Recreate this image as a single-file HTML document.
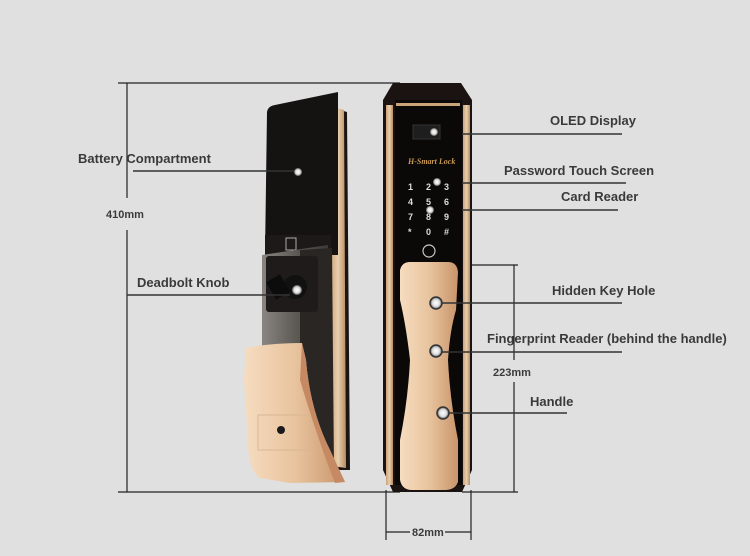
<!DOCTYPE html>
<html><head><meta charset="utf-8"><style>
html,body{margin:0;padding:0;background:#e0e0e0;}
svg{display:block}
text{font-family:"Liberation Sans",sans-serif;font-weight:bold;fill:#3a3a3a;}
</style></head><body>
<svg width="750" height="556" viewBox="0 0 750 556" xmlns="http://www.w3.org/2000/svg">
<defs>
<linearGradient id="gold" x1="0" x2="1" y1="0" y2="0">
<stop offset="0" stop-color="#f6dcc0"/><stop offset="0.5" stop-color="#e8c49e"/><stop offset="1" stop-color="#c9956b"/>
</linearGradient>
<linearGradient id="gold2" x1="0" x2="1">
<stop offset="0" stop-color="#c9a27a"/><stop offset="0.5" stop-color="#e9cfae"/><stop offset="1" stop-color="#b88c62"/>
</linearGradient>
<linearGradient id="gray" x1="0" x2="1">
<stop offset="0" stop-color="#8a8580"/><stop offset="0.5" stop-color="#5d5955"/><stop offset="1" stop-color="#3a3734"/>
</linearGradient>
<radialGradient id="dot"><stop offset="0" stop-color="#fff"/><stop offset="0.6" stop-color="#ddd"/><stop offset="1" stop-color="#555"/></radialGradient>
</defs>
<rect width="750" height="556" fill="#e0e0e0"/>

<!-- dimension lines -->
<g stroke="#222" stroke-width="1.2" fill="none">
<line x1="118" y1="83" x2="400" y2="83"/>
<line x1="118" y1="492" x2="400" y2="492"/>
<line x1="127" y1="83" x2="127" y2="198"/>
<line x1="127" y1="230" x2="127" y2="492"/>
<line x1="462" y1="265" x2="518" y2="265"/>
<line x1="462" y1="492" x2="518" y2="492"/>
<line x1="514" y1="265" x2="514" y2="360"/>
<line x1="514" y1="382" x2="514" y2="492"/>
<line x1="386" y1="490" x2="386" y2="540"/>
<line x1="471" y1="490" x2="471" y2="540"/>
<line x1="386" y1="532" x2="410" y2="532"/>
<line x1="445" y1="532" x2="471" y2="532"/>
</g>
<text x="106" y="218" font-size="11" font-weight="normal">410mm</text>
<text x="493" y="376" font-size="11" font-weight="normal">223mm</text>
<text x="412" y="536" font-size="11" font-weight="normal">82mm</text>

<!-- Left lock -->
<path d="M333 108 L347 112 L350 470 L336 470 Z" fill="#1a1413"/>
<path d="M330 106 L344 110 L346 468 L332 466 Z" fill="url(#gold2)"/>
<path d="M267 112 Q268 106 275 105 L338 92 L338 255 L265 255 Z" fill="#151212"/>
<rect x="265" y="235" width="66" height="20" fill="#1c1918"/>
<rect x="286" y="238" width="10" height="12" fill="none" stroke="#aaa" stroke-width="1"/>
<path d="M262 255 L328 245 L330 470 L300 470 L262 440 Z" fill="url(#gray)"/>
<path d="M300 250 L332 248 L334 470 L310 470 Q318 420 300 350 Z" fill="#2a2624"/>
<rect x="266" y="256" width="52" height="56" rx="3" fill="#1e1b1a"/>
<circle cx="295" cy="287" r="12" fill="#111"/>
<rect x="270" y="277" width="16" height="20" fill="#0c0c0c" transform="rotate(-30 278 287)"/>
<circle cx="297" cy="290" r="5" fill="url(#dot)"/>
<circle cx="298" cy="172" r="4" fill="url(#dot)"/>
<circle cx="296" cy="348" r="5" fill="#999"/>
<path d="M246 348 Q270 343 302 343 L306 360 Q310 410 330 450 L345 482 L290 483 L260 478 Q248 470 248 440 L244 380 Z" fill="url(#gold)"/>
<path d="M302 343 L306 360 Q310 410 330 450 L345 482 L335 483 Q318 440 300 380 Z" fill="#c58a63"/>
<rect x="258" y="415" width="52" height="35" fill="none" stroke="#d8b693" stroke-width="1"/>
<circle cx="281" cy="430" r="4" fill="#1a1a1a"/>

<!-- Right lock -->
<path d="M383 100 L393 83 L461 83 L472 100 L472 470 L462 492 L393 492 L383 470 Z" fill="#1a1312"/>
<rect x="386" y="105" width="7" height="380" fill="url(#gold2)"/>
<rect x="463" y="105" width="7" height="380" fill="url(#gold2)"/>
<rect x="395" y="100" width="67" height="385" fill="#0b0808"/>
<rect x="396" y="103" width="64" height="3" fill="#c9a27a"/>
<rect x="413" y="125" width="27" height="14" fill="#1e1e1e" stroke="#333"/>
<circle cx="434" cy="132" r="4" fill="url(#dot)"/>
<text x="408" y="164" font-size="8" font-style="italic" fill="#c99a55" style="fill:#c99a55;font-family:'Liberation Serif',serif">H-Smart Lock</text>
<g font-size="9" font-weight="normal" style="fill:#ddd">
<text x="408" y="190" style="fill:#ddd">1</text><text x="426" y="190" style="fill:#ddd">2</text><text x="444" y="190" style="fill:#ddd">3</text>
<text x="408" y="205" style="fill:#ddd">4</text><text x="426" y="205" style="fill:#ddd">5</text><text x="444" y="205" style="fill:#ddd">6</text>
<text x="408" y="220" style="fill:#ddd">7</text><text x="426" y="220" style="fill:#ddd">8</text><text x="444" y="220" style="fill:#ddd">9</text>
<text x="408" y="235" style="fill:#ddd">*</text><text x="426" y="235" style="fill:#ddd">0</text><text x="444" y="235" style="fill:#ddd">#</text>
</g>
<circle cx="437" cy="182" r="4" fill="url(#dot)"/>
<circle cx="430" cy="210" r="4" fill="url(#dot)"/>
<circle cx="429" cy="251" r="6" fill="none" stroke="#ccc" stroke-width="1.2"/>
<path d="M400 270 Q402 262 410 262 L448 262 Q457 262 458 272 L456 310 Q450 330 448 360 Q450 400 458 440 L458 482 Q455 490 445 490 L412 490 Q402 490 400 480 L400 440 Q408 400 410 360 Q406 325 400 300 Z" fill="url(#gold)"/>
<circle cx="436" cy="303" r="6" fill="url(#dot)" stroke="#333" stroke-width="1.5"/>
<circle cx="436" cy="351" r="6" fill="url(#dot)" stroke="#333" stroke-width="1.5"/>
<circle cx="443" cy="413" r="6" fill="url(#dot)" stroke="#333" stroke-width="1.5"/>

<!-- callout lines -->
<g stroke="#333" stroke-width="1.4">
<line x1="133" y1="171" x2="294" y2="171"/>
<line x1="127" y1="295" x2="290" y2="295"/>
<line x1="462" y1="134" x2="622" y2="134"/>
<line x1="462" y1="183" x2="626" y2="183"/>
<line x1="462" y1="210" x2="618" y2="210"/>
<line x1="442" y1="303" x2="622" y2="303"/>
<line x1="442" y1="352" x2="622" y2="352"/>
<line x1="449" y1="413" x2="567" y2="413"/>
</g>
<g font-size="13">
<text x="78" y="163">Battery Compartment</text>
<text x="137" y="287">Deadbolt Knob</text>
<text x="550" y="125">OLED Display</text>
<text x="504" y="175">Password Touch Screen</text>
<text x="561" y="201">Card Reader</text>
<text x="552" y="295">Hidden Key Hole</text>
<text x="487" y="343">Fingerprint Reader (behind the handle)</text>
<text x="530" y="406">Handle</text>
</g>
</svg>
</body></html>
